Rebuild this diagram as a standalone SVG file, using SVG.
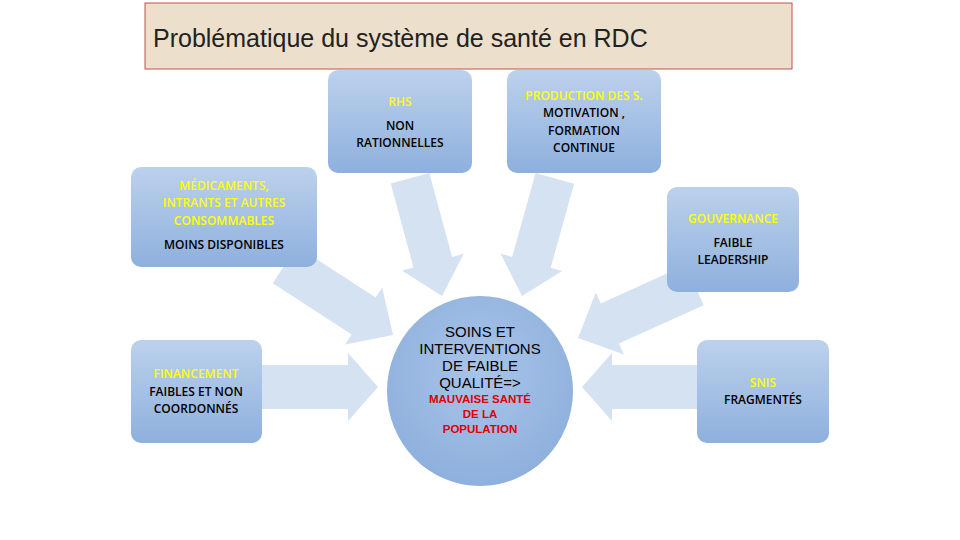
<svg xmlns="http://www.w3.org/2000/svg" width="960" height="540" viewBox="0 0 960 540">
<defs>
<linearGradient id="bg" x1="0" y1="0" x2="0" y2="1"><stop offset="0" stop-color="#bcd1ec"/><stop offset="1" stop-color="#8eb0dd"/></linearGradient>
<radialGradient id="cg" cx="0.5" cy="0.4" r="0.6"><stop offset="0" stop-color="#a9c4e8"/><stop offset="1" stop-color="#8eb0dd"/></radialGradient>
</defs>
<style>
.box{fill:url(#bg)}
.t{font-family:"Open Sans","Liberation Sans",sans-serif;font-size:12px;font-weight:600;text-anchor:middle;fill:#000}
.y{fill:#ffff00}
.r{fill:#e00000;font-size:11.5px;font-weight:700;font-family:"Liberation Sans",Arial,sans-serif}
.a{fill:#d5e2f2}
.c{font-family:"Liberation Sans",Arial,sans-serif;font-size:15px;text-anchor:middle}
</style>
<rect width="960" height="540" fill="#fff"/>
<g id="title"><rect x="145" y="3" width="647" height="66" fill="#ecdfcb" stroke="#c0504d" stroke-width="1"/>
<text x="153" y="47" font-family="Liberation Sans,Arial,sans-serif" font-size="25" fill="#222">Problématique du système de santé en RDC</text></g>
<g id="connectors">
<g transform="translate(442,296) rotate(74.8)"><path class="a" d="M-122,-20 H-35 V-32 L0,0 L-35,32 V20 H-122 Z"/></g>
<g transform="translate(522,296) rotate(105.6)"><path class="a" d="M-122,-20 H-35 V-32 L0,0 L-35,32 V20 H-122 Z"/></g>
<g transform="translate(393,335) rotate(33)"><path class="a" d="M-129,-22 H-35 V-34 L0,0 L-35,34 V22 H-129 Z"/></g>
<g transform="translate(578,338) rotate(155.6)"><path class="a" d="M-128,-22 H-35 V-34 L0,0 L-35,34 V22 H-128 Z"/></g>
<g transform="translate(378,387) rotate(0)"><path class="a" d="M-116,-22 H-30 V-34 L0,0 L-30,34 V22 H-116 Z"/></g>
<g transform="translate(582,387) rotate(180)"><path class="a" d="M-115,-22 H-30 V-34 L0,0 L-30,34 V22 H-115 Z"/></g>
</g>
<g id="rhs"><rect class="box" x="328" y="70" width="144" height="103" rx="10"/>
<text class="t y" x="400" y="106">RHS</text><text class="t" x="400" y="130">NON</text><text class="t" x="400" y="147">RATIONNELLES</text></g>
<g id="production"><rect class="box" x="507" y="70" width="154" height="103" rx="10"/>
<text class="t y" x="584" y="100">PRODUCTION DES S.</text><text class="t" x="584" y="117">MOTIVATION  ,</text><text class="t" x="584" y="135">FORMATION</text><text class="t" x="584" y="152">CONTINUE</text></g>
<g id="medicaments"><rect class="box" x="131" y="167" width="186" height="100" rx="10"/>
<text class="t y" x="224" y="190">MÉDICAMENTS,</text><text class="t y" x="224" y="207">INTRANTS ET AUTRES</text><text class="t y" x="224" y="225">CONSOMMABLES</text><text class="t" x="224" y="249">MOINS DISPONIBLES</text></g>
<g id="gouvernance"><rect class="box" x="667" y="187" width="132" height="105" rx="10"/>
<text class="t y" x="733" y="223">GOUVERNANCE</text><text class="t" x="733" y="247">FAIBLE</text><text class="t" x="733" y="264">LEADERSHIP</text></g>
<g id="financement"><rect class="box" x="131" y="340" width="131" height="103" rx="10"/>
<text class="t y" x="196" y="378">FINANCEMENT</text><text class="t" x="196" y="396">FAIBLES ET NON</text><text class="t" x="196" y="413">COORDONNÉS</text></g>
<g id="snis"><rect class="box" x="697" y="340" width="132" height="103" rx="10"/>
<text class="t y" x="763" y="387">SNIS</text><text class="t" x="763" y="404">FRAGMENTÉS</text></g>
<g id="center"><ellipse cx="480" cy="391" rx="93" ry="95" fill="url(#cg)"/>
<text class="c" x="480" y="337">SOINS ET</text><text class="c" x="480" y="354">INTERVENTIONS</text><text class="c" x="480" y="371">DE FAIBLE</text><text class="c" x="480" y="388">QUALITÉ=&gt;</text>
<text class="t r" x="480" y="403">MAUVAISE SANTÉ</text><text class="t r" x="480" y="418">DE LA</text><text class="t r" x="480" y="433">POPULATION</text></g>
</svg>
